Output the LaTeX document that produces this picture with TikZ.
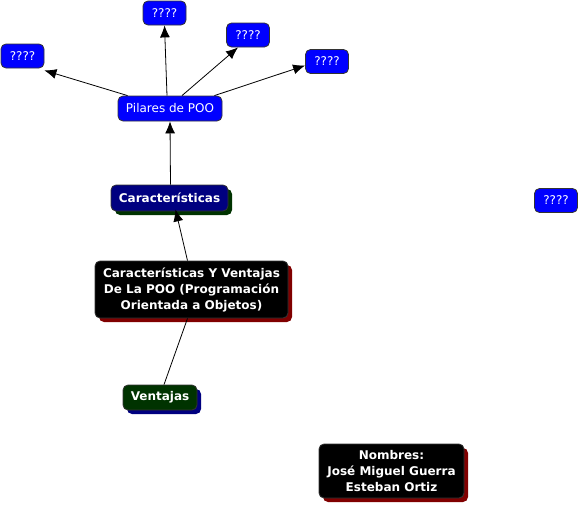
\documentclass[tikz,border=0pt]{standalone}
\usepackage{fontspec}
\setmainfont{DejaVu Sans}
\usetikzlibrary{shadows,arrows.meta}
\definecolor{qblue}{HTML}{0000FF}
\definecolor{navy}{HTML}{000080}
\definecolor{dgreen}{HTML}{003300}
\definecolor{dred}{HTML}{800000}
\begin{document}
\begin{tikzpicture}[x=1pt,y=-1pt,
  box/.style={draw=black!80, rounded corners=5pt, text=white, inner sep=0pt, align=center, font=\fontsize{12}{15}\selectfont, line width=0.8pt},
  qbox/.style={box, fill=qblue, minimum width=43pt, minimum height=24pt},
  boldbox/.style={box, font=\bfseries\fontsize{12}{16}\selectfont},
  shad/.style={drop shadow={shadow xshift=4pt, shadow yshift=-4pt, fill=#1, opacity=1}},
  arr/.style={-{Latex[length=12pt,width=10pt]}, line width=0.8pt},
  ln/.style={line width=0.8pt}]
\useasboundingbox (0,0) rectangle (579,506);
\node[qbox] (q1) at (22.5,56) {????};
\node[qbox] (q2) at (164.5,13) {????};
\node[qbox] (q3) at (248,35) {????};
\node[qbox] (q4) at (327,61.5) {????};
\node[qbox] (q5) at (556,200.5) {????};
\node[box, fill=qblue, minimum width=104pt, minimum height=25pt] (pil) at (170,108.5) {Pilares de POO};
\node[boldbox, fill=navy, shad=dgreen, minimum width=117pt, minimum height=26pt] (car) at (169.5,198) {Características};
\node[boldbox, fill=black, shad=dred, minimum width=193pt, minimum height=57pt] (main) at (191.5,289.5) {Características Y Ventajas\\De La POO (Programación\\Orientada a Objetos)};
\node[boldbox, fill=dgreen, shad=navy, minimum width=74pt, minimum height=25pt] (ven) at (160,397.5) {Ventajas};
\node[boldbox, fill=black, shad=dred, minimum width=145pt, minimum height=54pt] (nom) at (391.5,471) {Nombres:\\José Miguel Guerra\\Esteban Ortiz};
\draw[arr] ([xshift=10pt]pil.north west) -- ([yshift=-2pt]q1.south east);
\draw[arr] ([xshift=-3pt]pil.north) -- (q2.south);
\draw[arr] ([xshift=12pt]pil.north) -- ([xshift=-10pt]q3.south);
\draw[arr] ([xshift=-8pt]pil.north east) -- ([yshift=-4pt]q4.west);
\draw[arr] ([xshift=-4pt]main.north) -- ([xshift=6pt,yshift=2pt]car.south);
\draw[arr] ([xshift=1pt]car.north) -- (pil.south);
\draw[ln] ([xshift=4pt]ven.north) -- ([xshift=-4pt]main.south);
\end{tikzpicture}
\end{document}
